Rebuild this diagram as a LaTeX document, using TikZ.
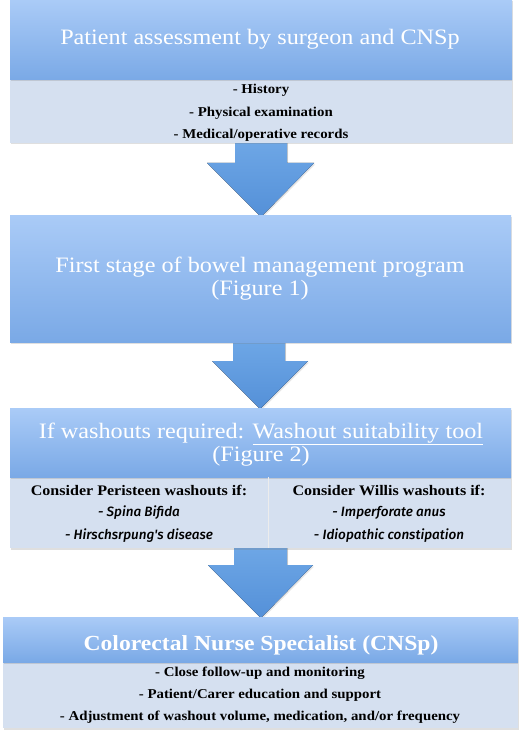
\documentclass[tikz,border=0pt]{standalone}
\usepackage{fontspec}
\setmainfont{Liberation Serif}[FakeStretch=1.1]
\newfontfamily\itemfont{Fira Sans}[ItalicFont={Fira Sans Medium Italic}]
\usetikzlibrary{shadows}
\definecolor{hdtop}{HTML}{AACBF7}
\definecolor{hdbot}{HTML}{7AA9E6}
\definecolor{lowfill}{HTML}{D5E0F0}
\definecolor{arrtop}{HTML}{6EA7E6}
\definecolor{arrbot}{HTML}{5490D8}
\tikzset{
  hdbox/.style={rectangle, inner sep=0pt, top color=hdtop, bottom color=hdbot, draw=none,
     text=white, align=center, drop shadow={opacity=0.25, shadow xshift=1pt, shadow yshift=-1.5pt}},
  lowbox/.style={rectangle, inner sep=0pt, fill=lowfill, draw=none, align=center,
     drop shadow={opacity=0.25, shadow xshift=1pt, shadow yshift=-1.5pt}},
  txt/.style={inner sep=0pt, align=center},
  bigarrow/.style={top color=arrtop, bottom color=arrbot, draw=none,
     drop shadow={opacity=0.2, shadow xshift=1pt, shadow yshift=-1.5pt}},
}
\begin{document}
\begin{tikzpicture}[x=1pt,y=-1pt]
\useasboundingbox (0,0) rectangle (520,730);
\fill[white] (0,0) rectangle (520,730);

% arrows (behind boxes)
\fill[bigarrow] (235,140) -- (287,140) -- (287,163) -- (314,163) -- (261,217) -- (207,163) -- (235,163) -- cycle;
\fill[bigarrow] (233,340) -- (285,340) -- (285,361) -- (308,361) -- (260,409) -- (212,361) -- (233,361) -- cycle;
\fill[bigarrow] (234,546) -- (287,546) -- (287,565) -- (313,565) -- (261,618) -- (208,565) -- (234,565) -- cycle;

% Box 1
\node[lowbox, minimum width=502pt, minimum height=63pt] (b1low) at (261,111.5) {};
\node[hdbox, minimum width=502pt, minimum height=80pt] (b1hd) at (261,40) {};
\node[txt, text=white, font=\fontsize{22}{26}\selectfont] (t1) at (260,39) {Patient assessment by surgeon and CNSp};
\node[txt, font=\bfseries\fontsize{13.5}{22.5}\selectfont] (t1b) at (261,113) {- History\\- Physical examination\\- Medical/operative records};

% Box 2
\node[hdbox, minimum width=501pt, minimum height=127pt] (b2) at (260.5,278.5) {};
\node[txt, text=white, font=\fontsize{22}{23}\selectfont] (t2) at (260,278.5) {First stage of bowel management program\\(Figure 1)};

% Box 3
\node[lowbox, minimum width=501pt, minimum height=71pt] (b3low) at (260.5,512.5) {};
\node[hdbox, minimum width=501pt, minimum height=69pt] (b3hd) at (260.5,442.5) {};
\node[txt, text=white, font=\fontsize{22}{23}\selectfont] (t3) at (261,444.5) {If washouts required: \underline{Washout suitability tool}\\(Figure 2)};
\draw[white!85!gray, line width=0.6pt] (b3low.north) ++(7.5,0) coordinate (dtop) -- (dtop |- b3low.south);
\node[txt, font=\bfseries\fontsize{14.6}{22}\selectfont] (t3l) at (139,490) {Consider Peristeen washouts if:};
\node[txt, font=\itemfont\itshape\fontsize{13.5}{23}\selectfont] (t3li) at (139,524.5) {- Spina Bifida\\- Hirschsrpung's disease};
\node[txt, font=\bfseries\fontsize{14.6}{22}\selectfont] (t3r) at (389,490) {Consider Willis washouts if:};
\node[txt, font=\itemfont\itshape\fontsize{13.5}{23}\selectfont] (t3ri) at (389,524.5) {- Imperforate anus\\- Idiopathic constipation};

% Box 4
\node[lowbox, minimum width=515pt, minimum height=66pt] (b4low) at (260.5,695) {};
\node[hdbox, minimum width=515pt, minimum height=45pt] (b4hd) at (260.5,639.5) {};
\node[txt, text=white, font=\bfseries\fontsize{21.5}{26}\selectfont] (t4) at (261,645) {Colorectal Nurse Specialist (CNSp)};
\node[txt, font=\bfseries\fontsize{13.5}{22}\selectfont] (t4b) at (260,695.5) {- Close follow-up and monitoring\\- Patient/Carer education and support\\- Adjustment of washout volume, medication, and/or frequency};
\end{tikzpicture}
\end{document}
